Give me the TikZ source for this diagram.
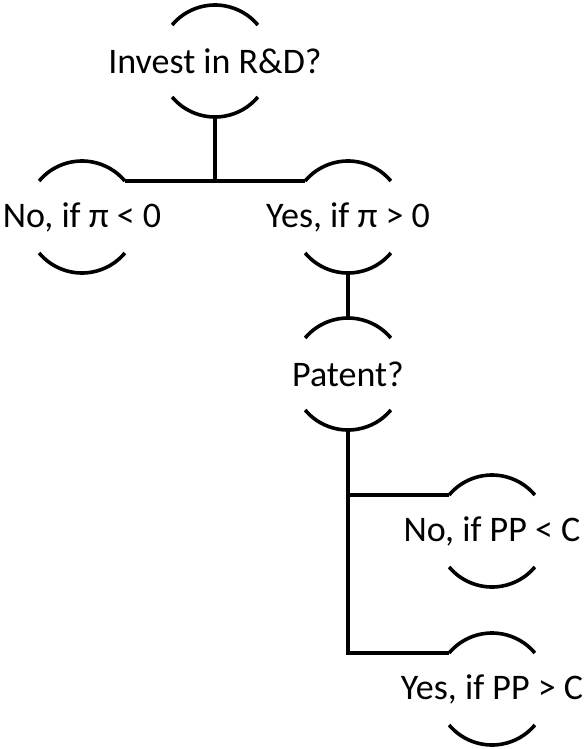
\documentclass[tikz,border=0pt]{standalone}
\usepackage{fontspec}
\setmainfont{Carlito}
\begin{document}
\begin{tikzpicture}[x=1pt,y=1pt,line width=3.6pt,
  ring/.style={circle,minimum size=112pt,inner sep=0pt,outer sep=0pt,draw=none},
  txt/.style={inner sep=0pt,font=\fontsize{36}{42}\selectfont},
  arcs/.style={line width=3.6pt}]
\useasboundingbox (0,0) rectangle (588,-749);
% decision rings
\node[ring] (c1) at (215,-61) {};
\node[ring] (c2) at (82,-217) {};
\node[ring] (c3) at (348,-217) {};
\node[ring] (c4) at (348,-374) {};
\node[ring] (c5) at (492,-531) {};
\node[ring] (c6) at (492,-689) {};
% texts
\node[txt] (t1) at (c1.center) {Invest in R\&D?};
\node[txt] (t2) at (c2.center) {No, if π < 0};
\node[txt] (t3) at (c3.center) {Yes, if π > 0};
\node[txt] (t4) at (c4.center) {Patent?};
\node[txt] (t5) at (c5.center) {No, if PP < C};
\node[txt] (t6) at (c6.center) {Yes, if PP > C};
% arcs
\foreach \n in {c1,c2,c3,c4,c5,c6}{
  \draw[arcs] (\n.140) arc[start angle=140,end angle=40,radius=56pt];
  \draw[arcs] (\n.220) arc[start angle=220,end angle=320,radius=56pt];
}
% connectors
\draw (c2.40) -- (c3.140);
\draw (c1.south) -- (c1.south |- c2.40);
\draw (c3.south) -- (c4.north);
\draw (c4.south) |- (c5.140);
\draw (c4.south) |- (c6.140);
\end{tikzpicture}
\end{document}
